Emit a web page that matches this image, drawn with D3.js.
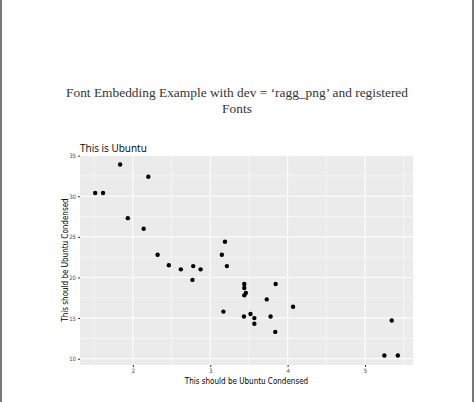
<!DOCTYPE html><html><head><script src="https://cdn.jsdelivr.net/npm/d3@7"></script>
<style>body{margin:0;background:#fff}</style></head><body><svg id="c" width="474" height="402"></svg>
<script>
const wt=[2.62,2.875,2.32,3.215,3.44,3.46,3.57,3.19,3.15,3.44,3.44,4.07,3.73,3.78,5.25,5.424,5.345,2.2,1.615,1.835,2.465,3.52,3.435,3.84,3.845,1.935,2.14,1.513,3.17,2.77,3.57,2.78];
const mpg=[21,21,22.8,21.4,18.7,18.1,14.3,24.4,22.8,19.2,17.8,16.4,17.3,15.2,10.4,10.4,14.7,32.4,30.4,33.9,21.5,15.5,15.2,13.3,19.2,27.3,26,30.4,15.8,19.7,15,21.4];
const xTicks=[2,3,4,5], yTicks=[10,15,20,25,30,35];
const svg=d3.select("#c");
svg.append("rect").attr("x",0).attr("y",0).attr("width",2).attr("height",402).attr("fill","#777");
svg.append("rect").attr("x",472).attr("y",0).attr("width",2).attr("height",402).attr("fill","#777");
const t=svg.append("text").attr("text-anchor","middle").attr("font-family","'Liberation Serif',serif").attr("font-size",13.4).attr("fill","#333");
t.append("tspan").attr("x",237).attr("y",97).text("Font Embedding Example with dev = \u2018ragg_png\u2019 and registered");
t.append("tspan").attr("x",237).attr("y",113).text("Fonts");
const L=80,R=413,T=155,B=365;
const x=d3.scaleLinear().domain([1.317,5.62]).range([L,R]);
const y=d3.scaleLinear().domain([9.225,35.075]).range([B,T]);
svg.append("rect").attr("x",L).attr("y",T).attr("width",R-L).attr("height",B-T).attr("fill","#ebebeb");
const g=svg.append("g");
d3.range(1.5,5.6,1).forEach(v=>g.append("line").attr("x1",x(v)).attr("x2",x(v)).attr("y1",T).attr("y2",B).attr("stroke","#fff").attr("stroke-width",0.5));
d3.range(12.5,35,5).forEach(v=>g.append("line").attr("y1",y(v)).attr("y2",y(v)).attr("x1",L).attr("x2",R).attr("stroke","#fff").attr("stroke-width",0.5));
xTicks.forEach(v=>g.append("line").attr("x1",x(v)).attr("x2",x(v)).attr("y1",T).attr("y2",B).attr("stroke","#fff").attr("stroke-width",1));
yTicks.forEach(v=>g.append("line").attr("y1",y(v)).attr("y2",y(v)).attr("x1",L).attr("x2",R).attr("stroke","#fff").attr("stroke-width",1));
const f="'DejaVu Sans Condensed','Liberation Sans Narrow',sans-serif";
const xa=svg.append("g").attr("transform",`translate(0,${B})`).call(d3.axisBottom(x).tickValues(xTicks).tickSize(2).tickPadding(2).tickFormat(d3.format("d")));
const ya=svg.append("g").attr("transform",`translate(${L},0)`).call(d3.axisLeft(y).tickValues(yTicks).tickSize(2).tickPadding(2).tickFormat(d3.format("d")));
[xa,ya].forEach(a=>{a.select(".domain").remove();a.selectAll("line").attr("stroke","#333");a.selectAll("text").attr("font-family",f).attr("font-size",6).attr("fill","#4d4d4d");});
svg.selectAll("circle").data(wt).join("circle").attr("cx",d=>x(d)).attr("cy",(d,i)=>y(mpg[i])).attr("r",2.2).attr("fill","#000");
svg.append("text").attr("x",(L+R)/2).attr("y",384).attr("text-anchor","middle").attr("font-family",f).attr("font-size",8).attr("fill","#000").text("This should be Ubuntu Condensed");
svg.append("text").attr("transform",`translate(68,${(T+B)/2}) rotate(-90)`).attr("text-anchor","middle").attr("font-family",f).attr("font-size",8).attr("fill","#000").text("This should be Ubuntu Condensed");
svg.append("text").attr("x",80).attr("y",152).attr("font-family","'Open Sans',sans-serif").attr("font-size",10).attr("fill","#000").text("This is Ubuntu");
</script></body></html>
